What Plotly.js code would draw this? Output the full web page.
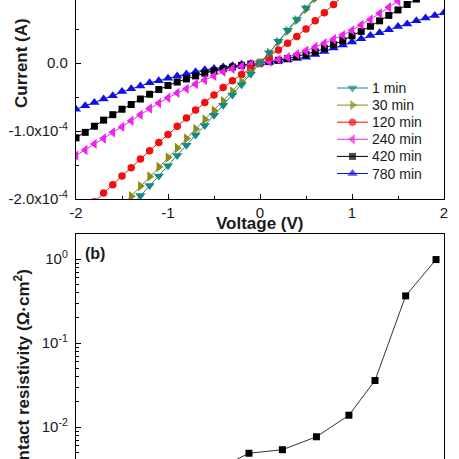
<!DOCTYPE html>
<html>
<head>
<meta charset="utf-8">
<script src="https://cdn.plot.ly/plotly-3.0.1.min.js"></script>
<style>
  html, body { margin: 0; padding: 0; background: #fff; overflow: hidden; width: 459px; height: 459px; }
  #frame { position: relative; width: 459px; height: 459px; overflow: hidden; }
  #chart { position: absolute; left: 0; top: -73px; width: 459px; height: 625px; }
</style>
</head>
<body>
<div id="frame"><div id="chart"></div></div>
<script>
// (a) I-V sweeps, current in units of 1e-4 A
const voltage = [-2.0, -1.9, -1.8, -1.7, -1.6, -1.5, -1.4, -1.3, -1.2, -1.1, -1.0,
                 -0.9, -0.8, -0.7, -0.6, -0.5, -0.4, -0.3, -0.2, -0.1, 0.0,
                 0.1, 0.2, 0.3, 0.4, 0.5, 0.6, 0.7, 0.8, 0.9, 1.0,
                 1.1, 1.2, 1.3, 1.4, 1.5, 1.6, 1.7, 1.8, 1.9, 2.0];

const cur1min = [-3.00, -2.85, -2.70, -2.55, -2.40, -2.25, -2.10, -1.95, -1.80, -1.66, -1.51,
                 -1.36, -1.21, -1.06, -0.92, -0.77, -0.62, -0.47, -0.32, -0.16, 0.00,
                 0.15, 0.32, 0.48, 0.64, 0.81, 0.97, 1.13, 1.30, 1.46, 1.62,
                 1.78, 1.95, 2.11, 2.27, 2.43, 2.60, 2.76, 2.92, 3.08, 3.24];
const cur30min = [-2.80, -2.66, -2.52, -2.38, -2.24, -2.10, -1.96, -1.81, -1.67, -1.53, -1.39,
                  -1.25, -1.11, -0.97, -0.83, -0.70, -0.56, -0.42, -0.28, -0.14, 0.00,
                  0.15, 0.31, 0.47, 0.63, 0.79, 0.95, 1.11, 1.27, 1.43, 1.59,
                  1.75, 1.91, 2.07, 2.23, 2.39, 2.55, 2.71, 2.87, 3.03, 3.19];
const cur120min = [-2.30, -2.17, -2.04, -1.91, -1.79, -1.66, -1.54, -1.41, -1.29, -1.17, -1.05,
                   -0.93, -0.81, -0.69, -0.58, -0.47, -0.36, -0.26, -0.17, -0.08, 0.00,
                   0.09, 0.19, 0.29, 0.39, 0.50, 0.62, 0.74, 0.86, 0.98, 1.10,
                   1.22, 1.34, 1.46, 1.58, 1.70, 1.83, 1.96, 2.09, 2.22, 2.35];
const cur240min = [-1.36, -1.28, -1.19, -1.11, -1.02, -0.94, -0.85, -0.76, -0.67, -0.59, -0.51,
                   -0.44, -0.38, -0.31, -0.25, -0.19, -0.13, -0.085, -0.05, -0.02, 0.00,
                   0.02, 0.05, 0.085, 0.13, 0.18, 0.235, 0.29, 0.35, 0.41, 0.48,
                   0.56, 0.64, 0.73, 0.82, 0.91, 1.00, 1.09, 1.18, 1.27, 1.36];
const cur420min = [-1.10, -1.02, -0.93, -0.84, -0.76, -0.68, -0.61, -0.53, -0.46, -0.39, -0.33,
                   -0.28, -0.235, -0.19, -0.15, -0.115, -0.085, -0.06, -0.035, -0.015, 0.00,
                   0.02, 0.04, 0.065, 0.095, 0.125, 0.165, 0.215, 0.27, 0.33, 0.40,
                   0.465, 0.54, 0.62, 0.70, 0.78, 0.86, 0.94, 1.02, 1.10, 1.18];
const cur780min = [-0.68, -0.63, -0.58, -0.53, -0.48, -0.42, -0.38, -0.34, -0.29, -0.26, -0.225,
                   -0.19, -0.16, -0.13, -0.10, -0.08, -0.06, -0.04, -0.02, -0.01, 0.00,
                   0.01, 0.025, 0.045, 0.065, 0.085, 0.125, 0.17, 0.22, 0.265, 0.31,
                   0.355, 0.405, 0.445, 0.49, 0.535, 0.575, 0.62, 0.66, 0.70, 0.74];

const seriesNames = ['1 min', '30 min', '120 min', '240 min', '420 min', '780 min'];
const currentTickVals = [-2, -1, 0, 1, 2];
const currentTickText = ['-2.0x10<sup>-4</sup>', '-1.0x10<sup>-4</sup>', '0.0',
                         '1.0x10<sup>-4</sup>', '2.0x10<sup>-4</sup>'];
const voltageTicks = [-2, -1, 0, 1, 2];

// (b) contact resistivity
const stepX = [4.63, 5.64, 6.73, 7.84, 8.90, 9.75, 10.75, 11.74];
const rhoC = [0.0032, 0.0049, 0.0054, 0.0077, 0.0139, 0.036, 0.366, 0.99];
const rhoTickVals = [0.01, 0.1, 1];
const rhoTickText = ['10<sup>-2</sup>', '10<sup>-1</sup>', '10<sup>0</sup>'];

const FONT = 'Liberation Sans, Arial, Helvetica, sans-serif';
const INK = '#1a1a1a';

const styles = [
  { color: '#138a8a', symbol: 'triangle-down', size: 9 },
  { color: '#8c8c14', symbol: 'triangle-right', size: 9 },
  { color: '#f01010', symbol: 'circle', size: 7.5 },
  { color: '#f020f0', symbol: 'triangle-left', size: 9 },
  { color: '#000000', symbol: 'square', size: 7 },
  { color: '#1010e8', symbol: 'triangle-up', size: 9 }
];
const currents = [cur1min, cur30min, cur120min, cur240min, cur420min, cur780min];

// longest anneal drawn first so the short-anneal curves sit on top
const traces = [];
for (let k = currents.length - 1; k >= 0; k--) {
  traces.push({
    type: 'scatter', mode: 'lines+markers',
    x: voltage, y: currents[k], name: seriesNames[k],
    xaxis: 'x', yaxis: 'y', showlegend: false,
    line: { color: styles[k].color, width: 1 },
    marker: { color: styles[k].color, symbol: styles[k].symbol, size: styles[k].size, line: { width: 0 } }
  });
}
traces.push({
  type: 'scatter', mode: 'lines+markers',
  x: stepX, y: rhoC, xaxis: 'x2', yaxis: 'y2', showlegend: false,
  line: { color: '#333333', width: 1 },
  marker: { color: '#000000', symbol: 'square', size: 7 }
});

// compact key for panel (a): a hidden overlay axis pair measured in pixels
const keyLeft = 337, keyRight = 368, keyTop = 88, keyStep = 17.1;
const keyRows = seriesNames.map((_, k) => keyTop + k * keyStep);
traces.push({
  type: 'scatter', mode: 'markers', xaxis: 'x3', yaxis: 'y3', showlegend: false,
  x: keyRows.map(() => (keyLeft + keyRight) / 2), y: keyRows,
  marker: { color: styles.map(s => s.color), symbol: styles.map(s => s.symbol),
            size: styles.map(s => s.size), line: { width: 0 } },
  cliponaxis: false
});
const keyShapes = keyRows.map((yy, k) => ({
  type: 'line', xref: 'x3', yref: 'y3', x0: keyLeft, x1: keyRight, y0: yy, y1: yy,
  line: { color: styles[k].color, width: 1 }
}));
const keyLabels = keyRows.map((yy, k) => ({
  text: seriesNames[k], xref: 'x3', yref: 'y3', x: keyRight + 2, y: yy,
  xanchor: 'left', yanchor: 'middle', showarrow: false,
  font: { family: FONT, size: 14, color: INK }
}));

const axisCommon = {
  showline: true, linecolor: '#000', linewidth: 1.2, mirror: true,
  ticks: 'inside', ticklen: 5, tickwidth: 1, tickcolor: '#000',
  showgrid: false, zeroline: false,
  tickfont: { family: FONT, size: 15, color: INK }
};

const layout = {
  width: 459, height: 625,
  margin: { l: 76, r: 15, t: 0, b: 50 },
  paper_bgcolor: '#fff', plot_bgcolor: '#fff',
  showlegend: false,
  font: { family: FONT, color: INK },
  xaxis: Object.assign({}, axisCommon, {
    domain: [0, 1], anchor: 'y', range: [-2, 2],
    tickvals: voltageTicks, ticktext: voltageTicks.map(String),
    minor: { ticks: 'inside', ticklen: 3, tickcolor: '#000', dtick: 0.5, showgrid: false }
  }),
  yaxis: Object.assign({}, axisCommon, {
    domain: [0.52696, 1], anchor: 'x', range: [-2, 2],
    tickvals: currentTickVals, ticktext: currentTickText, ticklabelstandoff: 4,
    minor: { ticks: 'inside', ticklen: 3, tickcolor: '#000', dtick: 0.5, showgrid: false }
  }),
  xaxis2: Object.assign({}, axisCommon, {
    domain: [0, 1], anchor: 'y2', range: [0, 12], showticklabels: false
  }),
  yaxis2: Object.assign({}, axisCommon, {
    domain: [0, 0.46609], anchor: 'x2', type: 'log', range: [-2.89, 0.30],
    tickvals: rhoTickVals, ticktext: rhoTickText, ticklabelstandoff: 4,
    minor: { ticks: 'inside', ticklen: 3, tickcolor: '#000',
             tickvals: [0.002, 0.003, 0.004, 0.005, 0.006, 0.007, 0.008, 0.009,
                        0.02, 0.03, 0.04, 0.05, 0.06, 0.07, 0.08, 0.09,
                        0.2, 0.3, 0.4, 0.5, 0.6, 0.7, 0.8, 0.9], showgrid: false }
  }),
  xaxis3: { overlaying: 'x', anchor: 'y3', range: [76, 444], visible: false, fixedrange: true },
  yaxis3: { overlaying: 'y', anchor: 'x3', range: [199, -73], visible: false, fixedrange: true },
  shapes: keyShapes,
  annotations: [
    { text: '<b>Current (A)</b>', xref: 'paper', yref: 'y domain', x: -0.1467, y: 0.5,
      xanchor: 'center', yanchor: 'middle', textangle: -90, showarrow: false,
      font: { family: FONT, size: 17, color: INK } },
    { text: '<b>Voltage (V)</b>', xref: 'x', yref: 'paper', x: 0, y: (575 - 296) / 575,
      xanchor: 'center', yanchor: 'middle', showarrow: false,
      font: { family: FONT, size: 17, color: INK } },
    { text: '<b>Contact resistivity (Ω·cm<sup>2</sup>)</b>', xref: 'paper', yref: 'y2 domain',
      x: -0.1467, y: 0.47, xanchor: 'center', yanchor: 'middle', textangle: -90, showarrow: false,
      font: { family: FONT, size: 17, color: INK } },
    { text: '<b>(b)</b>', xref: 'x2 domain', yref: 'y2 domain', x: 0.019, y: 0.929,
      xanchor: 'left', yanchor: 'middle', showarrow: false,
      font: { family: FONT, size: 16, color: INK } }
  ].concat(keyLabels)
};

Plotly.newPlot('chart', traces, layout, { staticPlot: true, displayModeBar: false });
</script>
</body>
</html>
